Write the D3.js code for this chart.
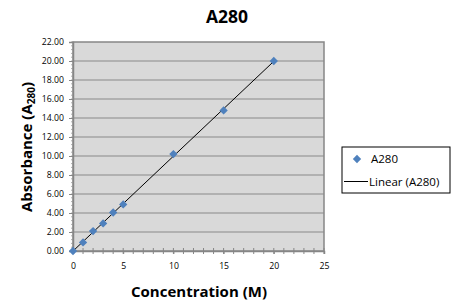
<!DOCTYPE html>
<html>
<head>
<meta charset="utf-8">
<script src="https://cdn.jsdelivr.net/npm/d3@7"></script>
<style>
  body { margin: 0; background: #fff; }
  text { font-family: "Open Sans", "Liberation Sans", sans-serif; fill: #000; }
</style>
</head>
<body>
<div id="chart"></div>
<script>
// values
var concentration = [0, 1, 2, 3, 4, 5, 10, 15, 20];
var absorbance = [0, 0.9, 2.1, 2.9, 4.05, 4.9, 10.2, 14.8, 20.0];
var xTicks = [0, 5, 10, 15, 20, 25];
var yTicks = [0, 2, 4, 6, 8, 10, 12, 14, 16, 18, 20, 22];

var w = 457, h = 303
	, pL = 73, pR = 324, pT = 42, pB = 251
	;

var svg = d3.select('#chart').append('svg').attr('width', w).attr('height', h);

var x = d3.scaleLinear().domain([0, 25]).range([pL, pR]);
var y = d3.scaleLinear().domain([0, 22]).range([pB, pT]);

// plot area
svg.append('rect').attr('x', pL).attr('y', pT).attr('width', pR - pL).attr('height', pB - pT)
	.attr('fill', '#d9d9d9').attr('stroke', '#868686').attr('stroke-width', 1.5);

// gridlines
svg.append('g').selectAll('line').data(yTicks.filter(function(d){ return d > 0 && d < 22; })).enter().append('line')
	.attr('x1', pL).attr('x2', pR).attr('y1', function(d){ return y(d); }).attr('y2', function(d){ return y(d); })
	.attr('stroke', '#8a8a8a').attr('stroke-width', 1.2);

// y axis with minor ticks every 0.4
var yMinor = d3.range(0, 22.01, 0.4);
svg.append('g').selectAll('line').data(yMinor).enter().append('line')
	.attr('x1', pL - 2).attr('x2', pL + 1).attr('y1', function(d){ return y(d); }).attr('y2', function(d){ return y(d); })
	.attr('stroke', '#9a9a9a').attr('stroke-width', 0.8);
svg.append('g').attr('transform', 'translate(' + pL + ',0)')
	.call(d3.axisLeft(y).tickValues(yTicks).tickSize(4).tickPadding(5).tickFormat(d3.format('.2f')))
	.call(function(g){
		g.select('.domain').attr('stroke', '#868686').attr('stroke-width', 1.5);
		g.selectAll('.tick line').attr('stroke', '#868686');
		g.selectAll('.tick text').attr('font-size', '8.7px');
	});

// x axis with minor ticks every 1
svg.append('g').selectAll('line').data(d3.range(0, 26, 1)).enter().append('line')
	.attr('x1', function(d){ return x(d); }).attr('x2', function(d){ return x(d); }).attr('y1', pB - 3).attr('y2', pB + 3)
	.attr('stroke', '#868686').attr('stroke-width', 1);
svg.append('g').attr('transform', 'translate(0,' + pB + ')')
	.call(d3.axisBottom(x).tickValues(xTicks).tickSize(3).tickPadding(9).tickFormat(d3.format('d')))
	.call(function(g){
		g.select('.domain').attr('stroke', '#868686').attr('stroke-width', 1.5);
		g.selectAll('.tick line').attr('stroke', '#868686');
		g.selectAll('.tick text').attr('font-size', '8.7px');
	});

// linear trendline (least squares)
var mx = d3.mean(concentration)
	, my = d3.mean(absorbance)
	, sxy = d3.sum(concentration, function(d, i){ return (d - mx) * (absorbance[i] - my); })
	, sxx = d3.sum(concentration, function(d){ return (d - mx) * (d - mx); })
	, slope = sxy / sxx
	, icpt = my - slope * mx
	, xExt = d3.extent(concentration)
	;
svg.append('line')
	.attr('x1', x(xExt[0])).attr('y1', y(icpt + slope * xExt[0]))
	.attr('x2', x(xExt[1])).attr('y2', y(icpt + slope * xExt[1]))
	.attr('stroke', '#000').attr('stroke-width', 1);

// markers
var diamond = d3.symbol().type(d3.symbolDiamond2).size(44);
svg.append('g').selectAll('path').data(concentration).enter().append('path')
	.attr('d', diamond)
	.attr('transform', function(d, i){ return 'translate(' + x(d) + ',' + y(absorbance[i]) + ')'; })
	.attr('fill', '#4f81bd');

// titles
svg.append('text').attr('x', 227).attr('y', 23).attr('text-anchor', 'middle')
	.attr('font-size', '17.5px').attr('font-weight', 'bold').text('A280');
svg.append('text').attr('x', 199).attr('y', 297).attr('text-anchor', 'middle')
	.attr('font-size', '15px').attr('font-weight', 'bold').text('Concentration (M)');
var yl = svg.append('text').attr('transform', 'translate(32,147) rotate(-90)').attr('text-anchor', 'middle')
	.attr('font-size', '15px').attr('font-weight', 'bold');
yl.append('tspan').text('Absorbance (A');
yl.append('tspan').attr('font-size', '10px').attr('dy', 3).text('280');
yl.append('tspan').attr('dy', -3).text(')');

// legend
var lg = svg.append('g');
lg.append('rect').attr('x', 342).attr('y', 147).attr('width', 108).attr('height', 46)
	.attr('fill', '#fff').attr('stroke', '#000').attr('stroke-width', 1);
lg.append('path').attr('d', diamond).attr('transform', 'translate(357,159)').attr('fill', '#4f81bd');
lg.append('text').attr('x', 371).attr('y', 163).attr('font-size', '11.5px').text('A280');
lg.append('line').attr('x1', 344).attr('x2', 368).attr('y1', 181.5).attr('y2', 181.5).attr('stroke', '#000');
lg.append('text').attr('x', 369).attr('y', 185.5).attr('font-size', '11.5px').text('Linear (A280)');
</script>
</body>
</html>
